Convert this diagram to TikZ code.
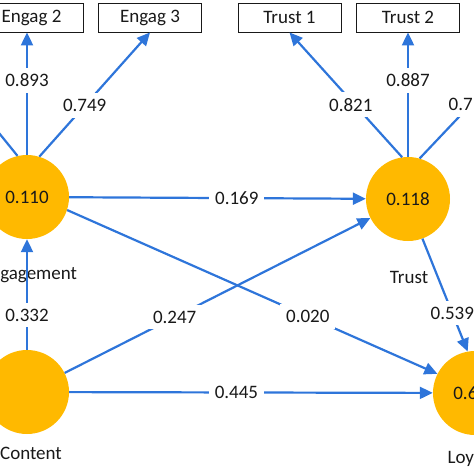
\documentclass[tikz,border=0pt]{standalone}
\usepackage{fontspec}
\setmainfont{Carlito}
\usetikzlibrary{arrows.meta,calc}
\definecolor{pathblue}{RGB}{46,117,218}
\definecolor{lvyellow}{RGB}{255,185,0}

\tikzset{
  latent/.style={circle, fill=lvyellow, minimum size=84pt, inner sep=0pt, text=black!90},
  indicator/.style={draw=black!90, line width=0.9pt, fill=white, minimum width=103pt, minimum height=29pt, inner sep=0pt, text=black!90},
  link/.style={draw=pathblue, line width=2.2pt, -{Triangle[length=13pt,width=12pt]}},
  coef/.style={fill=white, inner sep=6pt, text=black!90},
  lvname/.style={inner sep=0pt, text=black!90},
}

\begin{document}
\begin{tikzpicture}[x=1pt,y=-1pt,font=\fontsize{19}{22}\selectfont]
  \useasboundingbox (0,0) rectangle (474,474);
  \clip (0,0) rectangle (474,474);

  % latent variables
  \node[latent] (eng) at (27,197) {0.110};
  \node[latent] (trust) at (408,199) {0.118};
  \node[latent] (cont) at (27,392) {};
  \node[latent] (loy) at (475,393) {0.6\phantom{00}};

  % names below the circles
  \node[lvname] (englbl) at (29,275) {\phantom{En}gagement};
  \node[lvname] (trustlbl) at (409,277) {Trust};
  \node[lvname] (contlbl) at (31,453) {Content};
  \node[lvname] (loylbl) at (475,458) {Loy\phantom{alty}};

  % indicators
  \node[indicator] (eng2) at (31.5,17.5) {Engag 2};
  \node[indicator] (eng3) at (150,17.5) {Engag 3};
  \node[indicator] (tr1) at (289.5,17.5) {Trust 1};
  \node[indicator] (tr2) at (408,17.5) {Trust 2};
  \coordinate (eng1) at (-60,60);
  \coordinate (tr3) at (530,42);

  % outer loadings
  \draw[link] (eng.103) -- (eng1);
  \draw[link] (eng.north) -- node[coef,pos=0.61] {0.893} (eng.north |- eng2.south);
  \draw[link] (eng.73) -- node[coef,pos=0.41] {0.749} (eng3.south);
  \draw[link] (trust.98) -- node[coef,pos=0.42,xshift=-4pt] {0.821} (tr1.south);
  \draw[link] (trust.north) -- node[coef,pos=0.616] {0.887} (trust.north |- tr2.south);
  \draw[link] (trust.74) -- node[coef,pos=0.46] {0.71\phantom{0}} (tr3);

  % path coefficients
  \draw[link] (eng) -- node[coef,pos=0.565] {0.169} (trust);
  \draw[link] (eng.-18) -- node[coef,pos=0.65] {0.020} (loy.153);
  \draw[link] (cont) -- node[coef,pos=0.315] {0.332} (eng);
  \draw[link] (cont) -- node[coef,pos=0.36] {0.247} (trust);
  \draw[link] (cont) -- node[coef,pos=0.46] {0.445} (loy);
  \draw[link] (trust.-70) -- node[coef,pos=0.66] {0.539} (loy.100);
\end{tikzpicture}
\end{document}
